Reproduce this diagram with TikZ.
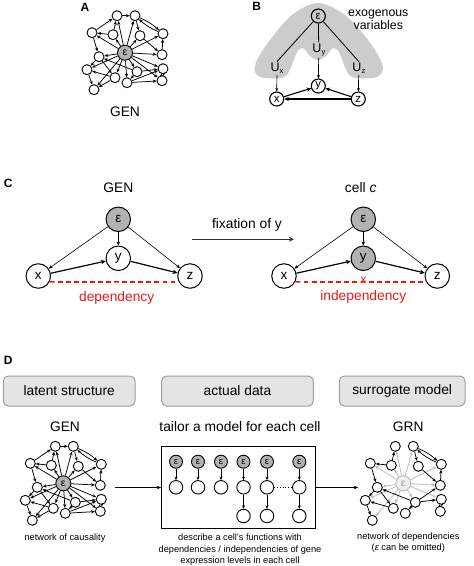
\documentclass[tikz,border=0pt]{standalone}
\usepackage{fontspec}
\setmainfont{Liberation Sans}
\usetikzlibrary{arrows.meta,calc}
\pgfdeclarelayer{bg}
\pgfsetlayers{bg,main}
\definecolor{myred}{RGB}{235,25,25}
\definecolor{egray}{RGB}{178,178,178}
\definecolor{bgray}{RGB}{204,204,204}
\definecolor{hfill}{RGB}{228,228,228}
\definecolor{hdraw}{RGB}{160,160,160}
\def\netlist{a1/-8/-37,a2/10/-37,a3/-33/-20,a4/-12/-18,a5/15/-17,a6/38/-19,a8/37/2,a9/-26/4,a10/-38/17,a11/-10/25,a12/12/19,a13/38/16,a14/2/30,a15/37/28,a16/-31/37}
\newcommand{\drawnet}[7]{%
  \begin{scope}[shift={(#2,#3)}]
    \node[#4] (#1e) at (0,0) {ε};
    \foreach \nn/\px/\py in \netlist {\node[netn] (#1\nn) at (\px,\py) {};}
  \end{scope}
  \begin{pgfonlayer}{bg}
    \foreach \et in {#6} {\draw[#5] (#1e) -- (#1\et);}
    \foreach \es/\et/\eb in {#7} {\draw[narr] (#1\es) to[bend left=\eb] (#1\et);}
  \end{pgfonlayer}
}
% red dashed relation drawn as solid red dashes between two named points
\newcommand{\reddash}[2]{%
  \foreach \tt in {0,1,...,15} {%
    \draw[myred,line width=1.5pt] ($(#1)!{\tt*0.0625}!(#2)$) -- ($(#1)!{\tt*0.0625+0.038}!(#2)$);
  }%
}
\newcommand{\usub}[1]{U\kern0.2pt\raisebox{-2.5pt}{\fontsize{7.5}{8}\selectfont #1}}
\begin{document}
\begin{tikzpicture}[x=1pt,y=-1pt,
  big/.style={font=\fontsize{13.8}{16}\selectfont},
  small/.style={font=\fontsize{9.2}{11.4}\selectfont},
  lab/.style={font=\fontsize{12}{14}\selectfont\bfseries},
  netn/.style={circle,draw,line width=0.9pt,fill=white,minimum size=10pt,inner sep=0pt},
  epsA/.style={circle,draw,line width=0.9pt,fill=egray,minimum size=15pt,inner sep=0pt,font=\fontsize{10.5}{11}\selectfont},
  epsG/.style={circle,draw=gray!55,line width=0.9pt,fill=gray!12,text=gray!75,minimum size=15pt,inner sep=0pt,font=\fontsize{10.5}{11}\selectfont},
  narr/.style={line width=0.75pt,-{Stealth[length=3.8pt,width=3.2pt]}},
  garr/.style={line width=0.75pt,draw=gray!55,-{Stealth[length=3.8pt,width=3.2pt]}},
  bcirc/.style={circle,draw,line width=1.1pt,fill=white,minimum size=14pt,inner sep=0pt,font=\fontsize{11.5}{12}\selectfont},
  bthick/.style={line width=1.1pt,-{Stealth[length=4.5pt,width=4pt]}},
  bthin/.style={line width=0.7pt,-{Stealth[length=3.5pt,width=3pt]}},
  ccirc/.style={circle,draw,line width=1pt,fill=white,minimum size=24.5pt,inner sep=0pt,font=\fontsize{13.5}{14}\selectfont},
  cthin/.style={line width=0.6pt,-{Stealth[length=4pt,width=3.4pt]}},
  cthick/.style={line width=1.2pt,-{Stealth[length=5pt,width=4.4pt]}},
  hbox/.style={draw=hdraw,fill=hfill,line width=1pt,rounded corners=5pt,minimum height=30pt,big},
  dcirc/.style={circle,draw,line width=0.9pt,fill=white,minimum size=13.5pt,inner sep=0pt},
  deps/.style={circle,draw,line width=0.9pt,fill=egray,minimum size=13pt,inner sep=0pt,font=\fontsize{9.5}{10}\selectfont},
  darr/.style={line width=0.8pt,-{Stealth[length=3.5pt,width=3pt]}},
  parr/.style={line width=0.9pt,-{Stealth[length=4.5pt,width=3.6pt]}}
]
\useasboundingbox (0,0) rectangle (474,566);

% ---------- Panel A ----------
\node[lab] (labA) at (85,7) {A};
\drawnet{A}{125}{52.7}{epsA}{narr}{a1,a2,a3,a4,a5,a6,a8,a9,a10,a11,a12,a13,a14,a15,a16}{a3/a1/0,a1/a2/0,a4/a1/0,a4/a3/0,a2/a6/9,a6/a2/9,a2/a5/0,a5/a8/0,a8/a6/0,a3/a9/0,a9/a10/0,a10/a16/0,a11/a10/0,a9/a11/0,a11/a16/0,a12/a9/0,a12/a14/0,a12/a13/0,a14/a13/0,a14/a15/0,a13/a15/10,a15/a13/10}
\node[big] (genA) at (125,111.7) {GEN};

% ---------- Panel B ----------
\node[lab] (labB) at (256.7,6.7) {B};
\fill[bgray] plot[smooth cycle, tension=0.55] coordinates {(318,3) (345,15) (368,40) (382,63) (381,74) (372,78) (352,77) (345,67) (339,52) (333,48) (326,56) (318,60) (310,56) (303,48) (297,52) (291,67) (284,77) (264,78) (255,72) (257,60) (270,40) (292,15)};
\node[bcirc,fill=none] (be) at (318.3,16) {ε};
\node[inner sep=1pt,font=\fontsize{12.5}{13}\selectfont] (bux) at (277,68.3) {\usub{x}};
\node[inner sep=1pt,font=\fontsize{12.5}{13}\selectfont] (buy) at (318.8,50) {\usub{y}};
\node[inner sep=1pt,font=\fontsize{12.5}{13}\selectfont] (buz) at (358.8,68.3) {\usub{z}};
\node[bcirc] (bx) at (276.7,99) {x};
\node[bcirc] (by) at (318.3,86) {y};
\node[bcirc] (bz) at (358.3,99) {z};
\draw[line width=0.8pt] (be) -- (bux.north);
\draw[line width=0.8pt] (be) -- (buy);
\draw[line width=0.8pt] (be) -- (buz.north);
\draw[bthin] (bux) -- (bx);
\draw[bthin] (buy) -- (by);
\draw[bthin] (buz) -- (bz);
\draw[bthick] (bx) -- (by);
\draw[bthick] (bz) -- (by);
\draw[bthick] (bz) -- (bx);
\node[align=center,font=\fontsize{12.3}{13.4}\selectfont] (exo) at (378.3,20) {exogenous\\variables};

% ---------- Panel C ----------
\node[lab] (labC) at (8.3,183.3) {C};
\node[big] (genC) at (118.3,187.3) {GEN};
\node[ccirc,fill=egray] (ce) at (118.3,219.3) {ε};
\node[ccirc] (cy) at (118.3,258.3) {y};
\node[ccirc] (cx) at (38.3,276) {x};
\node[ccirc] (cz) at (190,276) {z};
\draw[cthin] (ce) -- (cx);
\draw[cthin] (ce) -- (cy);
\draw[cthin] (ce) -- (cz);
\draw[cthick] (cx) -- (cy);
\draw[cthick] (cy) -- (cz);
\reddash{cx.-27}{cz.-153}
\node[big,text=myred] (dep) at (116.7,298.3) {dependency};

\node[big] (fix) at (247,225) {fixation of y};
\coordinate (fa) at (191.7,239.3);
\coordinate (fb) at (294,239.3);
\draw[line width=1.6pt,draw=black!80,-{Stealth[length=5pt,width=5pt]}] (fa) -- (fb);

\node[big] (cellc) at (360.7,187.3) {cell \textit{c}};
\node[ccirc,fill=egray] (re) at (363.3,219.3) {ε};
\node[ccirc,fill=egray] (ry) at (363.3,258.3) {y};
\node[ccirc] (rx) at (284,276) {x};
\node[ccirc] (rz) at (437.3,276) {z};
\draw[cthin] (re) -- (rx);
\draw[cthin] (re) -- (ry);
\draw[cthin] (re) -- (rz);
\draw[cthick] (rx) -- (ry);
\draw[cthick] (ry) -- (rz);
\reddash{rx.-27}{rz.-153}
\node[text=myred,font=\fontsize{12}{12}\selectfont,inner sep=0pt] (cross) at (363.3,280.2) {x};
\node[big,text=myred] (indep) at (363.3,297.3) {independency};

% ---------- Panel D ----------
\node[lab] (labD) at (8.3,360.7) {D};
\node[hbox,minimum width=131.7pt] (h1) at (69.2,391) {latent structure};
\node[hbox,minimum width=151.6pt] (h2) at (237.5,391) {actual data};
\node[hbox,minimum width=125.7pt] (h3) at (402.2,391) {surrogate model};

\node[big] (genD) at (65,426.7) {GEN};
\drawnet{L}{63.3}{483.3}{epsA}{narr}{a1,a2,a3,a4,a5,a6,a8,a9,a10,a11,a12,a13,a14,a15,a16}{a3/a1/0,a1/a2/0,a4/a1/0,a4/a3/0,a2/a6/9,a6/a2/9,a2/a5/0,a5/a8/0,a8/a6/0,a3/a9/0,a9/a10/0,a10/a16/0,a11/a10/0,a9/a11/0,a11/a16/0,a12/a9/0,a12/a14/0,a12/a13/0,a14/a13/0,a14/a15/0,a13/a15/10,a15/a13/10}
\node[small] (capL) at (65,537.7) {network of causality};

\node[big] (tailor) at (240,426.7) {tailor a model for each cell};
\node[draw,line width=1.1pt,minimum width=153.3pt,minimum height=81.6pt,inner sep=0pt] (mbox) at (238.4,487.5) {};
\foreach \i/\cx in {1/176,2/198,3/221,4/243.5,5/267,6/299.3} {
  \node[deps] (e\i) at (\cx,461.7) {ε};
  \node[dcirc] (r\i) at (\cx,487.3) {};
  \draw[darr] (e\i) -- (r\i);
}
\foreach \i/\cx in {4/243.5,5/267,6/299.3} {
  \node[dcirc] (s\i) at (\cx,516) {};
  \draw[darr] (r\i) -- (s\i);
}
\draw[line width=0.8pt,dotted] (r5) -- (r6);
\node[small,align=center] (capM) at (240,549.7) {describe a cell's functions with\\dependencies / independencies of gene\\expression levels in each cell};

\coordinate (la) at (115,487.5);
\draw[parr] (la) -- (mbox.west);
\coordinate (ra) at (358.3,487.5);
\draw[parr] (mbox.east) -- (ra);

\node[big] (grn) at (408.3,426.7) {GRN};
\drawnet{R}{403.3}{483.3}{epsG}{garr}{a1,a2,a3,a4,a6,a8,a9,a10,a11,a12,a13,a16}{a4/a1/0,a4/a3/0,a2/a6/9,a6/a2/9,a2/a5/0,a5/a8/0,a8/a6/0,a3/a9/0,a9/a10/0,a10/a16/0,a11/a10/0,a9/a11/0,a12/a9/0,a12/a14/0,a12/a13/0,a12/a8/0,a13/a15/10,a15/a13/10}
\node[small,align=center] (capR) at (408.3,542.5) {network of dependencies\\(\textit{ε} can be omitted)};
\end{tikzpicture}
\end{document}
